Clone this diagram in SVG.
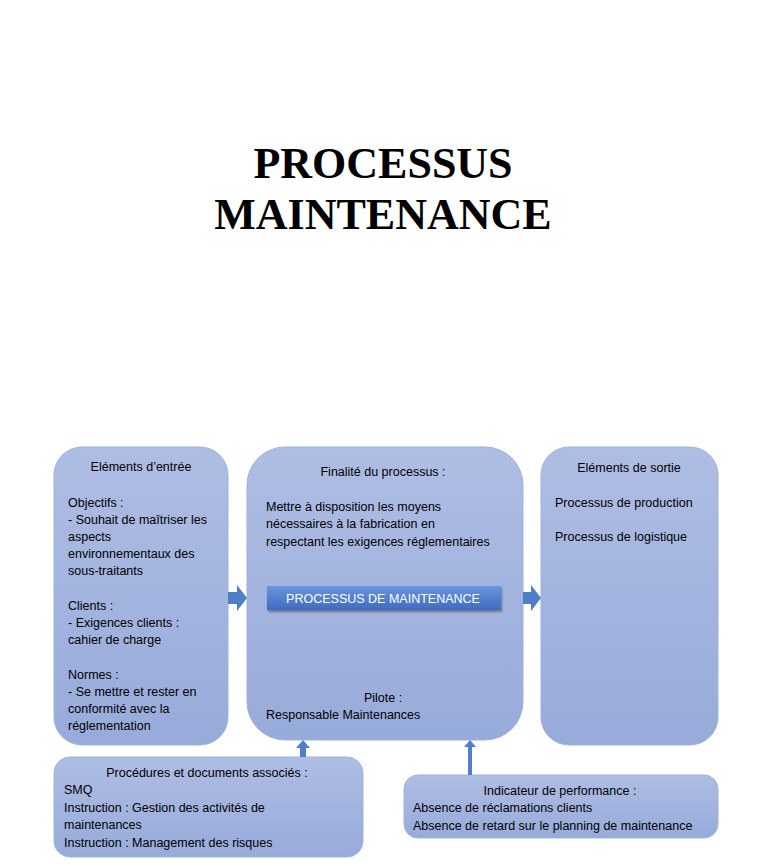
<svg xmlns="http://www.w3.org/2000/svg" width="768" height="866" viewBox="0 0 768 866">
<style>
.box{fill:url(#g);stroke:#9fb2dc;stroke-width:1}
.t{font-family:"Liberation Sans",Arial,sans-serif;font-size:12.5px;fill:#000}
.c{text-anchor:middle}
.arr{fill:#4f7fc8}
</style>
<defs>
<linearGradient id="g" x1="0" y1="0" x2="0" y2="1"><stop offset="0" stop-color="#aebde3"/><stop offset="1" stop-color="#97abda"/></linearGradient>
<linearGradient id="b" x1="0" y1="0" x2="0" y2="1"><stop offset="0" stop-color="#6a94dc"/><stop offset="1" stop-color="#3f6cc0"/></linearGradient>
</defs>
<rect width="768" height="866" fill="#fff"/>
<g id="title" font-family="Liberation Serif,Times New Roman,serif" font-weight="bold" font-size="44" text-anchor="middle">
<text x="383" y="178">PROCESSUS</text><text x="383" y="229">MAINTENANCE</text></g>
<g id="entree"><rect class="box" x="54" y="447" width="174" height="298" rx="28"/>
<text class="t c" x="141" y="471">Eléments d’entrée</text>
<text class="t" x="68" y="507">Objectifs :</text>
<text class="t" x="68" y="524">- Souhait de maîtriser les</text>
<text class="t" x="68" y="541">aspects</text>
<text class="t" x="68" y="558">environnementaux des</text>
<text class="t" x="68" y="575">sous-traitants</text>
<text class="t" x="68" y="610">Clients :</text>
<text class="t" x="68" y="627">- Exigences clients :</text>
<text class="t" x="68" y="644">cahier de charge</text>
<text class="t" x="68" y="679">Normes :</text>
<text class="t" x="68" y="696">- Se mettre et rester en</text>
<text class="t" x="68" y="713">conformité avec la</text>
<text class="t" x="68" y="730">réglementation</text></g>
<g id="centre"><rect class="box" x="247" y="447" width="276" height="293" rx="38"/>
<text class="t c" x="383" y="476">Finalité du processus :</text>
<text class="t" x="266" y="511">Mettre à disposition les moyens</text>
<text class="t" x="266" y="528">nécessaires à la fabrication en</text>
<text class="t" x="266" y="546">respectant les exigences réglementaires</text>
<rect x="267" y="586" width="234" height="24" fill="url(#b)" style="filter:drop-shadow(1px 2px 1px rgba(0,0,0,0.35))"/>
<text class="t c" x="383" y="603" fill="#fff" style="fill:#fff">PROCESSUS DE MAINTENANCE</text>
<text class="t c" x="383" y="702">Pilote :</text>
<text class="t" x="266" y="719">Responsable Maintenances</text></g>
<g id="sortie"><rect class="box" x="541" y="447" width="177" height="298" rx="28"/>
<text class="t c" x="629" y="472">Eléments de sortie</text>
<text class="t" x="555" y="507">Processus de production</text>
<text class="t" x="555" y="541">Processus de logistique</text></g>
<g id="procedures"><rect class="box" x="54" y="757" width="309" height="100" rx="16"/>
<text class="t c" x="207" y="777">Procédures et documents associés :</text>
<text class="t" x="64" y="794">SMQ</text>
<text class="t" x="64" y="812">Instruction : Gestion des activités de</text>
<text class="t" x="64" y="829">maintenances</text>
<text class="t" x="64" y="847">Instruction : Management des risques</text></g>
<g id="indicateur"><rect class="box" x="404" y="775" width="314" height="63" rx="14"/>
<text class="t c" x="560" y="795">Indicateur de performance :</text>
<text class="t" x="413" y="812">Absence de réclamations clients</text>
<text class="t" x="413" y="830">Absence de retard sur le planning de maintenance</text></g>
<g id="connectors" class="arr">
<path d="M228 592h9v-7l10 13-10 13v-7h-9z"/>
<path d="M523 592h8v-7l10 13-10 13v-7h-8z"/>
<path d="M300 757v-9h-4l7-8 7 8h-4v9z"/>
<path d="M468 775v-28h-4l6-7 6 7h-4v28z"/>
</g>
</svg>
